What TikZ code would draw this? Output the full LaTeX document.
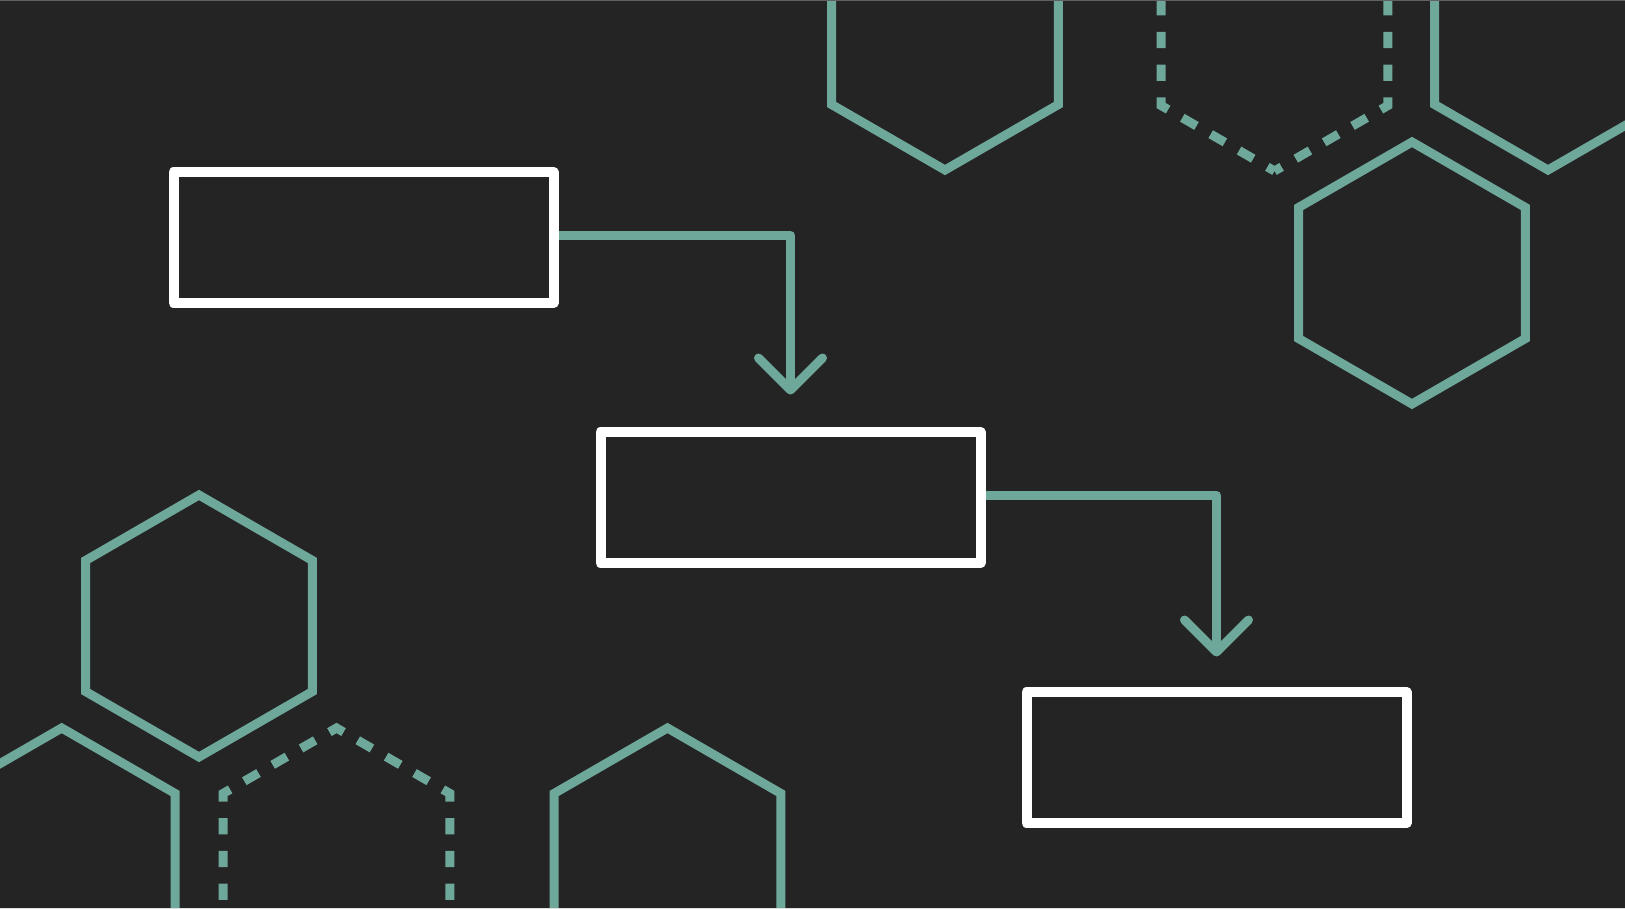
\documentclass[tikz,border=0pt]{standalone}
\begin{document}
\begin{tikzpicture}[x=1pt,y=-1pt,
  hexline/.style={draw=teal0,line width=9pt,line join=miter},
  hexdash/.style={hexline,dash pattern=on 16.375pt off 16.375pt,dash phase=8.19pt},
  hexshape/.pic={\path[pic actions] (90:131) -- (150:131) -- (210:131) -- (270:131) -- (330:131) -- (30:131) -- cycle;},
  box/.style={draw=white,fill=bg0,line width=10pt,line join=round,minimum width=380pt,minimum height=131pt,inner sep=0pt},
  conn/.style={draw=teal0,line width=9pt,line join=round,line cap=round}]
\definecolor{bg0}{HTML}{242424}
\definecolor{teal0}{HTML}{6EA89B}
\useasboundingbox (0,0) rectangle (1625,909);
\fill[bg0] (0,0) rectangle (1625,909);
\fill[black!62] (0,0) rectangle (1625,1.5);
\fill[black!12] (0,907.5) rectangle (1625,909);
\begin{scope}
  \clip (0,1.5) rectangle (1625,907.5);
  \pic[hexline] at (945,39) {hexshape};
  \pic[hexdash] at (1274.5,40) {hexshape};
  \pic[hexline] at (1548,39) {hexshape};
  \pic[hexline] at (1412,273) {hexshape};
  \pic[hexline] at (199,626) {hexshape};
  \pic[hexline] at (61.7,859) {hexshape};
  \pic[hexdash] at (336.5,859) {hexshape};
  \pic[hexline] at (667.5,859) {hexshape};
\end{scope}
\node[box] (b1) at (363.5,237.5) {};
\node[box] (b2) at (790.5,497.5) {};
\node[box] (b3) at (1216.5,757.5) {};
\coordinate (tip1) at ([yshift=37pt]b2.north);
\coordinate (tip2) at ([yshift=35pt]b3.north);
\draw[conn,line cap=butt] ([yshift=2pt]b1.east) -| (tip1);
\draw[conn] (tip1) ++(-32,-32) -- (tip1) -- ++(32,-32);
\draw[conn,line cap=butt] ([yshift=2pt]b2.east) -| (tip2);
\draw[conn] (tip2) ++(-32,-32) -- (tip2) -- ++(32,-32);
\end{tikzpicture}
\end{document}
